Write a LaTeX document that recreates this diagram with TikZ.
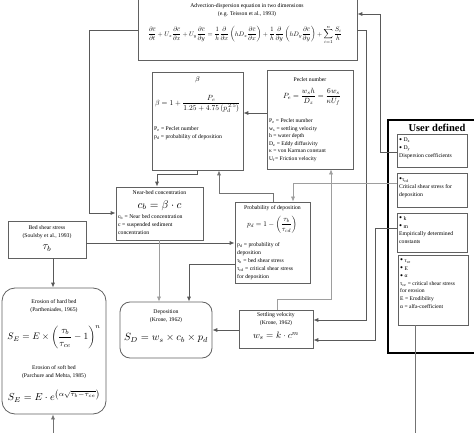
\documentclass[tikz,border=0pt]{standalone}
\usepackage{amsmath}
\usepackage{fontspec}
\setmainfont{Liberation Serif}
\usetikzlibrary{arrows.meta}
\definecolor{boxc}{gray}{0.38}
\definecolor{linec}{gray}{0.35}
\definecolor{midc}{gray}{0.45}
\definecolor{lightc}{gray}{0.62}
\newcommand{\bul}{\raisebox{-0.2ex}{\scalebox{1.5}{\textbullet}}}
\tikzset{
  bx/.style={draw=boxc, line width=0.8pt, inner sep=0pt},
  rbx/.style={bx, rounded corners=13pt},
  ubx/.style={draw=black, line width=1.6pt, inner sep=0pt},
  ttl/.style={font=\fontsize{5.7}{7.8}\selectfont, inner sep=0pt},
  lst/.style={font=\fontsize{5.7}{7.9}\selectfont, inner sep=0pt, align=left, anchor=north west},
  eqn/.style={inner sep=0pt},
  conn/.style={draw=linec, line width=0.9pt, -{Latex[length=5pt,width=4.2pt]}},
  mconn/.style={draw=midc, line width=0.8pt, -{Latex[length=5pt,width=4.2pt]}},
  lconn/.style={draw=lightc, line width=0.7pt, -{Latex[length=5pt,width=4.2pt]}},
}
\begin{document}
\begin{tikzpicture}[x=1pt,y=-1pt]
\useasboundingbox[fill=white] (0,0) rectangle (474,433);

% ---------- boxes ----------
\node[bx, minimum width=219pt, minimum height=64pt] (adv) at (247.5,28) {};
\node[bx, minimum width=91pt, minimum height=98pt] (beta) at (197.5,121) {};
\node[bx, minimum width=86pt, minimum height=99pt] (peclet) at (310,119.5) {};
\node[bx, minimum width=87pt, minimum height=53pt] (nearbed) at (159.5,213.5) {};
\node[bx, minimum width=75pt, minimum height=81pt] (prob) at (272.5,242.5) {};
\node[bx, minimum width=78pt, minimum height=37pt] (bedshear) at (47,239.5) {};
\node[rbx, minimum width=104pt, minimum height=126pt] (erosion) at (54,351) {};
\node[rbx, rounded corners=10pt, minimum width=92pt, minimum height=56pt] (deposition) at (166,330) {};
\node[bx, minimum width=74pt, minimum height=38pt] (settling) at (276,329) {};
\node[ubx, minimum width=92pt, minimum height=233pt] (user) at (434,236.5) {};
\node[bx, minimum width=70pt, minimum height=33pt] (ud1) at (432,151) {};
\node[bx, minimum width=70pt, minimum height=34pt] (ud2) at (432,190) {};
\node[bx, minimum width=70pt, minimum height=39pt] (ud3) at (432,232.5) {};
\node[bx, minimum width=70pt, minimum height=70pt] (ud4) at (433,290) {};

% ---------- advection-dispersion ----------
\node[ttl] (advt1) at (247,6) {Advection-dispersion equation in two dimensions};
\node[ttl] (advt2) at (247,14.5) {(e.g. Teisson et al., 1993)};
\node[eqn] (adveq) at (245,35) {\resizebox{194pt}{!}{$\displaystyle
 \frac{\partial \bar c}{\partial t}+U_x\frac{\partial \bar c}{\partial x}+U_y\frac{\partial \bar c}{\partial y}
 =\frac{1}{h}\frac{\partial}{\partial x}\left(hD_x\frac{\partial \bar c}{\partial x}\right)
 +\frac{1}{h}\frac{\partial}{\partial y}\left(hD_y\frac{\partial \bar c}{\partial y}\right)
 +\sum_{i=1}^{n}\frac{S_i}{h}$}};

% ---------- beta ----------
\node[ttl, font=\fontsize{7}{8}\selectfont] (bt) at (197.5,80) {$\beta$};
\node[eqn] (beq) at (197.5,104) {\resizebox{85pt}{!}{$\displaystyle \beta=1+\frac{P_e}{1.25+4.75\left(p_d^{\,2.5}\right)}$}};
\node[lst] (bl) at (154,126.5) {P\textsubscript{e} = Peclet number\\p\textsubscript{d} = probability of deposition};

% ---------- Peclet ----------
\node[ttl] (pt) at (310,80) {Peclet number};
\node[eqn] (peq) at (312,97) {\resizebox{58pt}{!}{$\displaystyle P_e=\frac{w_s h}{D_z}=\frac{6w_s}{\kappa U_f}$}};
\node[lst, font=\fontsize{5.6}{7.5}\selectfont] (pl) at (269,118.5) {P\textsubscript{e} = Peclet number\\w\textsubscript{s} = settling velocity\\h = water depth\\D\textsubscript{z} = Eddy diffusivity\\κ = von Karman constant\\U\textsubscript{f}= Friction velocity};

% ---------- near-bed ----------
\node[ttl] (nt) at (159.5,193) {Near-bed concentration};
\node[eqn] (neq) at (159.5,205.5) {\resizebox{44pt}{!}{$c_b=\beta\cdot c$}};
\node[lst] (nl) at (118,214.5) {c\textsubscript{b} = Near bed concentration\\c = suspended sediment\\concentration};

% ---------- probability ----------
\node[ttl] (prt) at (272.5,208) {Probability of deposition};
\node[eqn] (preq) at (272,224.5) {\resizebox{50pt}{!}{$\displaystyle p_d=1-\left(\frac{\tau_b}{\tau_{cd}}\right)$}};
\node[lst] (prl) at (237,242.5) {p\textsubscript{d} = probability of\\deposition\\τ\textsubscript{b} = bed shear stress\\τ\textsubscript{cd} = critical shear stress\\for deposition};

% ---------- bed shear ----------
\node[ttl] (bst1) at (47,228) {Bed shear stress};
\node[ttl] (bst2) at (47,236) {(Soulsby et al., 1993)};
\node[eqn] (bseq) at (47,248) {\resizebox{!}{4.6pt}{$\tau_b$}};

% ---------- erosion ----------
\node[ttl] (et1) at (54,302) {Erosion of hard bed};
\node[ttl] (et2) at (54,310) {(Partheniades, 1965)};
\node[eqn] (eeq1) at (54,337) {\resizebox{93pt}{!}{$\displaystyle S_E=E\times\left(\frac{\tau_b}{\tau_{ce}}-1\right)^{n}$}};
\node[ttl] (et3) at (54,368) {Erosion of soft bed};
\node[ttl] (et4) at (54,376) {(Parchure and Mehta, 1985)};
\node[eqn] (eeq2) at (54,396) {\resizebox{92pt}{!}{$\displaystyle S_E=E\cdot e^{\left(\alpha\sqrt{\tau_b-\tau_{ce}}\right)}$}};

% ---------- deposition ----------
\node[ttl] (dt1) at (166,312) {Deposition};
\node[ttl] (dt2) at (166,320) {(Krone, 1962)};
\node[eqn] (deq) at (166,338) {\resizebox{84pt}{!}{$S_D=w_s\times c_b\times p_d$}};

% ---------- settling ----------
\node[ttl] (st1) at (276,315) {Settling velocity};
\node[ttl] (st2) at (276,323) {(Krone, 1962)};
\node[eqn] (seq) at (276,336) {\resizebox{46pt}{!}{$w_s=k\cdot c^{m}$}};

% ---------- user defined ----------
\node[inner sep=0pt, font=\fontsize{10.5}{12}\bfseries] (ut) at (437,128) {User defined};
\node[lst] (u1) at (399,138) {\bul\ D\textsubscript{x}\\\bul\ D\textsubscript{y}\\Dispersion coefficients};
\node[lst] (u2) at (399,177.5) {\bul τ\textsubscript{cd}\\Critical shear stress for\\deposition};
\node[lst] (u3) at (399,216) {\bul\ k\\\bul\ m\\Empirically determined\\constants};
\node[lst, font=\fontsize{5.6}{7.6}\selectfont] (u4) at (400,259) {\bul\ τ\textsubscript{ce}\\\bul\ E\\\bul\ α\\τ\textsubscript{ce} = critical shear stress\\for erosion\\E = Erodibility\\α = alfa-coefficient};

% ---------- connectors ----------
\draw[conn] (adv.west |- 0,30) -- (89,30) -- (89,213) -- (nearbed.west |- 0,213);
\draw[conn] (ud1.west |- 0,152) -- (380,152) -- (380,14) -- (adv.east |- 0,14);
\draw[conn] (adv.east |- 0,30) -- (366,30) -- (366,320) -- (settling.east |- 0,320);
\draw[conn] (ud3.west |- 0,228) -- (375,228) -- (375,340) -- (settling.east |- 0,340);
\draw[conn] (peclet.west |- 0,113) -- (beta.east |- 0,113);
\draw[conn] (beta.south) -- (197.5,174) -- (157,174) -- (nearbed.north -| 157,0);
\draw[mconn] (prob.north -| 273,0) -- (273,193) -- (219,193) -- (beta.south -| 219,0);
\draw[lconn] (ud2.west |- 0,183) -- (293,183) -- (prob.north -| 293,0);
\draw[lconn] (settling.north -| 277,0) -- (277,299) -- (331,299) -- (peclet.south -| 331,0);
\draw[conn] (bedshear.east |- 0,243) -- (prob.west |- 0,243);
\draw[conn] (bedshear.south -| 53,0) -- (erosion.north -| 53,0);
\draw[lconn] (nearbed.south -| 159,0) -- (deposition.north -| 159,0);
\draw[conn] (prob.west |- 0,264) -- (189,264) -- (deposition.north -| 189,0);
\draw[conn] (settling.west |- 0,330) -- (deposition.east |- 0,330);
\draw[mconn] (ud4.south -| 415,0) -- (415,445) -- (53,445) -- (erosion.south -| 53,0);
\end{tikzpicture}
\end{document}
